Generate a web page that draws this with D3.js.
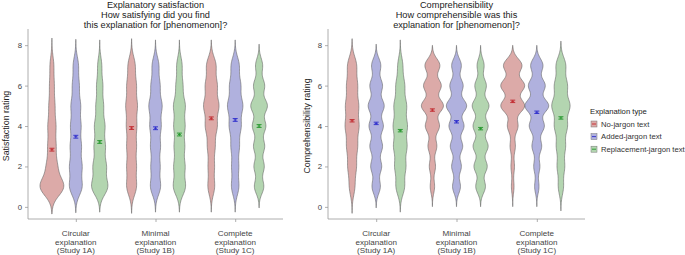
<!DOCTYPE html>
<html>
<head>
<meta charset="utf-8">
<script src="https://cdn.jsdelivr.net/npm/d3@7"></script>
<style>
  body { margin: 0; background: #fff; }
  text { font-family: "Liberation Sans", Arial, sans-serif; }
</style>
</head>
<body>
<svg id="chart" width="685" height="255"></svg>
<script>
// categories and tick labels
var studies = [["Circular", "explanation", "(Study 1A)"],
               ["Minimal", "explanation", "(Study 1B)"],
               ["Complete", "explanation", "(Study 1C)"]];
var types = ["No-jargon text", "Added-jargon text", "Replacement-jargon text"];
var ratings = [1, 2, 3, 4, 5, 6, 7];
var yTicks = [0, 2, 4, 6, 8];

// share of answers at each rating (1..7), one row per study x text type
var satShares = [
  [0.38, 0.16, 0.12, 0.12, 0.09, 0.07, 0.06],
  [0.19, 0.18, 0.16, 0.15, 0.14, 0.10, 0.08],
  [0.24, 0.19, 0.16, 0.15, 0.11, 0.09, 0.06],
  [0.15, 0.14, 0.14, 0.15, 0.17, 0.14, 0.11],
  [0.15, 0.13, 0.14, 0.16, 0.19, 0.13, 0.10],
  [0.18, 0.16, 0.15, 0.16, 0.17, 0.10, 0.08],
  [0.10, 0.09, 0.11, 0.17, 0.22, 0.17, 0.14],
  [0.11, 0.10, 0.12, 0.17, 0.22, 0.16, 0.12],
  [0.12, 0.13, 0.14, 0.17, 0.21, 0.14, 0.09]
];
var satBandwidth = [0.45, 0.43, 0.42, 0.44, 0.42, 0.42, 0.42, 0.42, 0.35];
var satMeans = [2.83, 3.47, 3.21, 3.90, 3.89, 3.58, 4.38, 4.30, 4.00];
var satSE = [0.07, 0.07, 0.07, 0.07, 0.07, 0.07, 0.07, 0.07, 0.07];

var compShares = [
  [0.08, 0.12, 0.15, 0.19, 0.18, 0.15, 0.13],
  [0.10, 0.13, 0.15, 0.17, 0.19, 0.15, 0.11],
  [0.12, 0.15, 0.18, 0.19, 0.17, 0.12, 0.07],
  [0.05, 0.07, 0.10, 0.16, 0.25, 0.20, 0.17],
  [0.09, 0.11, 0.14, 0.17, 0.23, 0.15, 0.11],
  [0.11, 0.15, 0.17, 0.17, 0.19, 0.13, 0.08],
  [0.03, 0.04, 0.06, 0.12, 0.27, 0.27, 0.21],
  [0.05, 0.07, 0.11, 0.17, 0.27, 0.19, 0.14],
  [0.07, 0.10, 0.12, 0.17, 0.24, 0.17, 0.13]
];
var compBandwidth = [0.44, 0.35, 0.42, 0.33, 0.33, 0.33, 0.33, 0.33, 0.40];
var compMeans = [4.26, 4.13, 3.77, 4.79, 4.21, 3.87, 5.22, 4.68, 4.40];
var compSE = [0.06, 0.06, 0.06, 0.06, 0.06, 0.06, 0.06, 0.06, 0.06];

var fills = ["#dcaaa8", "#b0b1de", "#b3d5b0"];
var darks = ["#c1272d", "#2b2bcc", "#22962a"];

var svg = d3.select("#chart");

function gauss(u) { return Math.exp(-0.5 * u * u) / Math.sqrt(2 * Math.PI); }

// gaussian kernel density over the 1..7 answers, extended 3 bandwidths each side
function density(shares, bw) {
  var lo = 1 - 3 * bw, hi = 7 + 3 * bw;
  return d3.range(0, 121).map(function(i) {
    var v = lo + (hi - lo) * i / 120;
    var d = d3.sum(ratings, function(r, k) { return shares[k] * gauss((v - r) / bw) / bw; });
    return {v: v, d: d};
  });
}

function drawPanel(p) {
  var g = svg.append("g");

  var x = d3.scalePoint().domain(d3.range(studies.length)).range([p.left, p.right]).padding(0.6);
  var y = d3.scaleLinear().domain([-0.6, 8.8]).range([219, 29]);
  var dodge = x.step() * 0.3;

  var curves = p.shares.map(function(s, i) { return density(s, p.bw[i]); });
  var maxD = d3.max(curves, function(c) { return d3.max(c, function(e) { return e.d; }); });
  var w = d3.scaleLinear().domain([0, maxD]).range([0, dodge / 2]);

  // violins
  curves.forEach(function(c, i) {
    var s = Math.floor(i / 3), t = i % 3;
    var cx = x(s) + (t - 1) * dodge;
    g.append("path")
      .datum(c)
      .attr("fill", fills[t])
      .attr("stroke", "#666")
      .attr("stroke-width", 0.6)
      .attr("d", d3.area()
        .y(function(e) { return y(e.v); })
        .x0(function(e) { return cx - w(e.d); })
        .x1(function(e) { return cx + w(e.d); })
        .curve(d3.curveBasis));
  });

  // means with error bars
  p.means.forEach(function(m, i) {
    var s = Math.floor(i / 3), t = i % 3;
    var cx = x(s) + (t - 1) * dodge;
    var y0 = y(m - p.se[i]), y1 = y(m + p.se[i]);
    var eb = g.append("g").attr("stroke", darks[t]).attr("stroke-width", 0.9);
    eb.append("line").attr("x1", cx).attr("x2", cx).attr("y1", y0).attr("y2", y1);
    eb.append("line").attr("x1", cx - 2.5).attr("x2", cx + 2.5).attr("y1", y0).attr("y2", y0);
    eb.append("line").attr("x1", cx - 2.5).attr("x2", cx + 2.5).attr("y1", y1).attr("y2", y1);
    eb.append("line").attr("x1", cx - 1.5).attr("x2", cx + 1.5).attr("y1", y(m)).attr("y2", y(m));
  });

  // axes
  var yAxis = g.append("g")
    .attr("transform", "translate(" + p.left + ",0)")
    .call(d3.axisLeft(y).tickValues(yTicks).tickSize(3).tickPadding(3));
  var xAxis = g.append("g")
    .attr("transform", "translate(0,219)")
    .call(d3.axisBottom(x).tickSize(3).tickFormat(""));
  [yAxis, xAxis].forEach(function(a) {
    a.select(".domain").attr("stroke", "#9a9a9a").attr("stroke-width", 0.8)
      .attr("d", a === yAxis ? "M0,219V29" : "M" + p.left + ",0H" + p.right);
    a.selectAll(".tick line").attr("stroke", "#9a9a9a").attr("stroke-width", 0.8);
  });
  yAxis.selectAll(".tick text").attr("fill", "#444").attr("font-size", 7.8)
    .style("font-family", '"Liberation Sans", Arial, sans-serif');

  // category labels under the axis
  studies.forEach(function(lines, s) {
    var tx = g.append("text").attr("text-anchor", "middle")
      .attr("font-size", 8.1).attr("fill", "#444");
    lines.forEach(function(l, k) {
      tx.append("tspan").attr("x", x(s)).attr("y", 236 + k * 8.7).text(l);
    });
  });

  // y label
  g.append("text")
    .attr("transform", "translate(" + p.ylabX + ",126) rotate(-90)")
    .attr("text-anchor", "middle").attr("font-size", 8.9).attr("fill", "#222")
    .text(p.ylabel);

  // title
  var cxT = (p.left + p.right) / 2;
  p.title.forEach(function(l, k) {
    g.append("text").attr("x", cxT).attr("y", 8 + k * 9.8)
      .attr("text-anchor", "middle").attr("font-size", 9.2).attr("fill", "#222")
      .text(l);
  });
}

drawPanel({
  left: 28, right: 283, ylabX: 9,
  shares: satShares, bw: satBandwidth, means: satMeans, se: satSE,
  ylabel: "Satisfaction rating",
  title: ["Explanatory satisfaction", "How satisfying did you find", "this explanation for [phenomenon]?"]
});
drawPanel({
  left: 328, right: 585, ylabX: 310,
  shares: compShares, bw: compBandwidth, means: compMeans, se: compSE,
  ylabel: "Comprehensibility rating",
  title: ["Comprehensibility", "How comprehensible was this", "explanation for [phenomenon]?"]
});

// legend
var lg = svg.append("g").attr("transform", "translate(590,0)");
lg.append("text").attr("x", 0).attr("y", 114).attr("font-size", 7.7).attr("fill", "#222")
  .text("Explanation type");
types.forEach(function(t, i) {
  var yy = 124 + i * 12.6;
  lg.append("rect").attr("x", 1).attr("y", yy - 3).attr("width", 6).attr("height", 6)
    .attr("fill", fills[i]).attr("stroke", "#777").attr("stroke-width", 0.5);
  lg.append("line").attr("x1", 2).attr("x2", 6).attr("y1", yy).attr("y2", yy)
    .attr("stroke", darks[i]).attr("stroke-width", 0.9);
  lg.append("text").attr("x", 11).attr("y", yy + 2.8).attr("font-size", 7.7).attr("fill", "#333")
    .text(t);
});
</script>
</body>
</html>
